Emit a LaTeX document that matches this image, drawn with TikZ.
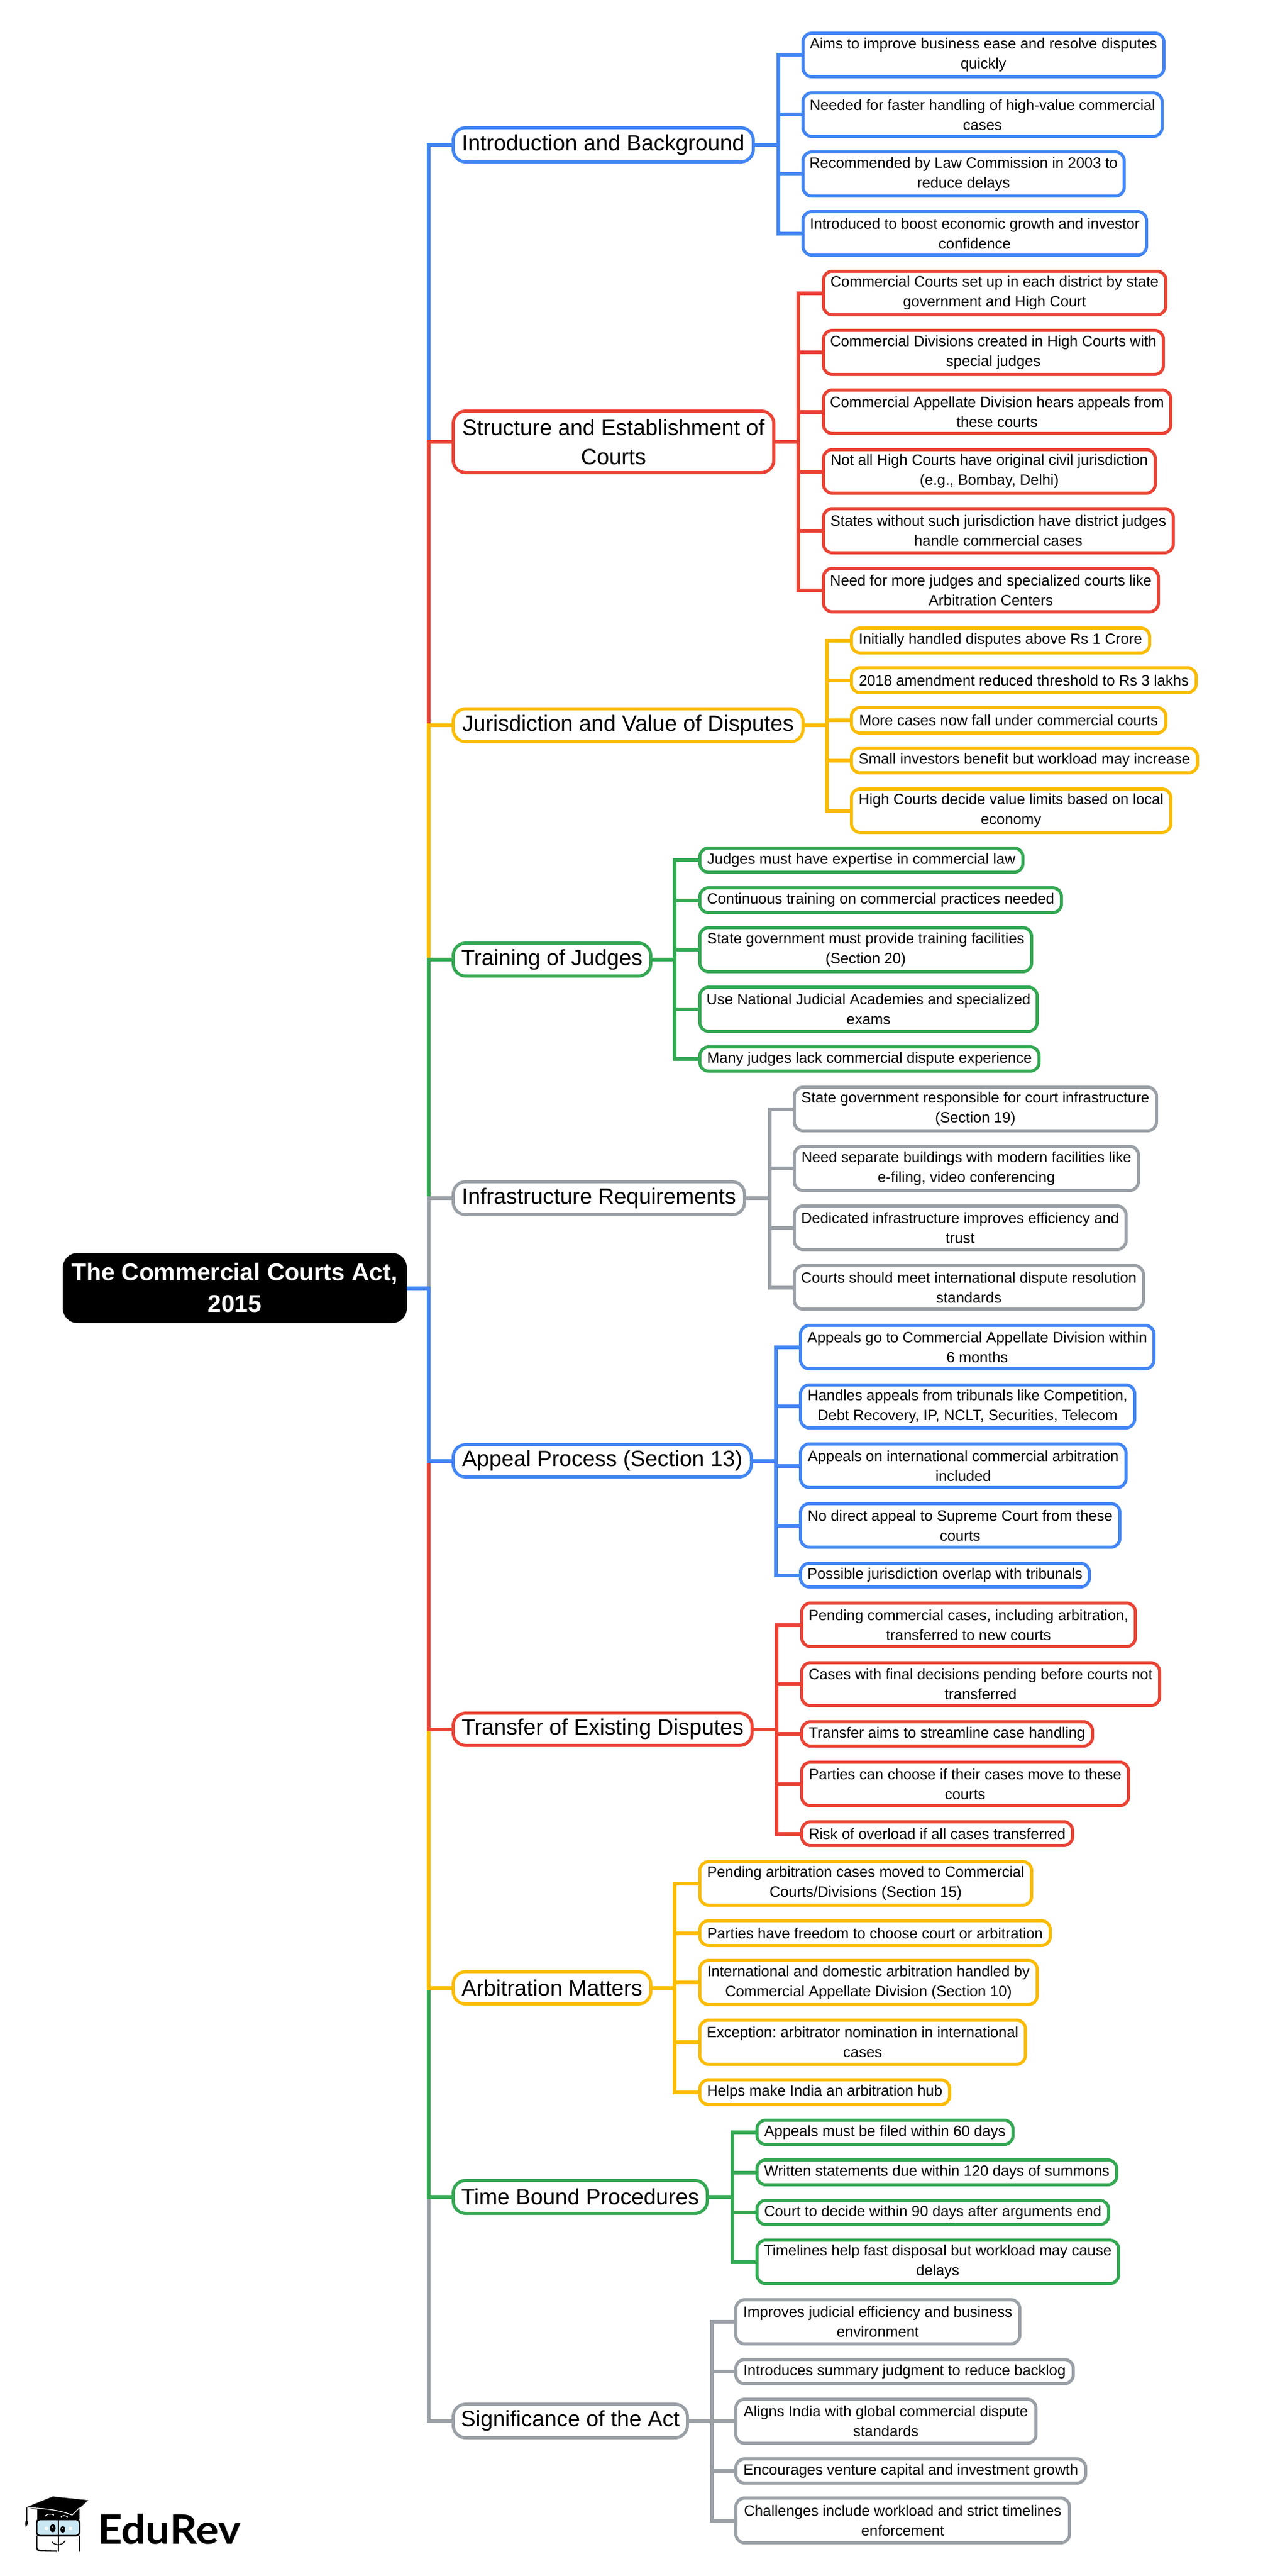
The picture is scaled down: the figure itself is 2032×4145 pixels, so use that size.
\documentclass[tikz,border=0pt]{standalone}
\usepackage{fontspec}
\setmainfont{Liberation Sans}
\newfontfamily\logofont[FakeStretch=1.06]{Lato}
\frenchspacing
\definecolor{cblue}{HTML}{4285F4}
\definecolor{cred}{HTML}{EA4335}
\definecolor{cyellow}{HTML}{FBBC04}
\definecolor{cgreen}{HTML}{34A853}
\definecolor{cgrey}{HTML}{9AA0A6}
\tikzset{
  base/.style={rectangle,align=center,inner sep=0pt,outer sep=0pt,fill=white,text=black},
  leaf/.style={base,line width=5pt,rounded corners=14pt,font=\frenchspacing\fontsize{24}{32}\selectfont},
  topic/.style={base,line width=5pt,rounded corners=20pt,font=\frenchspacing\fontsize{35.6}{47}\selectfont},
  rootbox/.style={base,fill=black,text=white,rounded corners=24pt,font=\fontsize{39}{51}\selectfont\bfseries},
  link/.style={line width=6pt,line join=miter}
}
% \bx{style}{colour}{name}{x0}{x1}{y0}{y1}{text}: outer extents in pixels
\newcommand{\bx}[8]{%
  \pgfmathsetmacro{\bxw}{#5-#4-5}\pgfmathsetmacro{\bxh}{#7-#6-5}%
  \node[#1,draw=#2,minimum width=\bxw pt,minimum height=\bxh pt] (#3) at ({(#4+#5)/2},{(#6+#7)/2}) {#8};}
% \lk{colour}{parent}{bus}{child}
\newcommand{\lk}[4]{\draw[link,#1] (#2.east) -- (#3|-#2.east) |- (#4.west);}
\begin{document}
\begin{tikzpicture}[x=1pt,y=-1pt]
\useasboundingbox (0,0) rectangle (2032,4145);
\coordinate (trunk) at (690,0);
% root and topics
\node[rootbox,minimum width=554pt,minimum height=113pt] (root) at (378,2072.5) {The Commercial Courts Act,\\2015};
\bx{topic}{cblue}{intro}{727}{1215}{203}{263}{Introduction and Background}
\bx{topic}{cred}{struct}{727}{1248}{659}{763}{Structure and Establishment of\\Courts}
\bx{topic}{cyellow}{juris}{727}{1295}{1138}{1196}{Jurisdiction and Value of Disputes}
\bx{topic}{cgreen}{train}{727}{1050}{1515}{1573}{Training of Judges}
\bx{topic}{cgrey}{infra}{727}{1201}{1899}{1957}{Infrastructure Requirements}
\bx{topic}{cblue}{appeal}{727}{1212}{2322}{2379}{Appeal Process (Section 13)}
\bx{topic}{cred}{transfer}{727}{1213}{2754}{2811}{Transfer of Existing Disputes}
\bx{topic}{cyellow}{arb}{727}{1050}{3170}{3227}{Arbitration Matters}
\bx{topic}{cgreen}{time}{727}{1141}{3506}{3564}{Time Bound Procedures}
\bx{topic}{cgrey}{signif}{727}{1109}{3866}{3925}{Significance of the Act}
% trunk links, painted so that each colour shows as in the picture
\lk{cblue}{root}{trunk}{intro}
\lk{cred}{root}{trunk}{struct}
\lk{cyellow}{root}{trunk}{juris}
\lk{cgreen}{root}{trunk}{train}
\lk{cgrey}{root}{trunk}{infra}
\lk{cgrey}{root}{trunk}{signif}
\lk{cgreen}{root}{trunk}{time}
\lk{cyellow}{root}{trunk}{arb}
\lk{cred}{root}{trunk}{transfer}
\lk{cblue}{root}{trunk}{appeal}
% Introduction
\coordinate (b1) at (1253,0);
\bx{leaf}{cblue}{a1}{1290}{1876}{51}{126}{Aims to improve business ease and resolve disputes\\quickly}
\bx{leaf}{cblue}{a2}{1290}{1873}{147}{222}{Needed for faster handling of high-value commercial\\cases}
\bx{leaf}{cblue}{a3}{1290}{1812}{242}{318}{Recommended by Law Commission in 2003 to\\reduce delays}
\bx{leaf}{cblue}{a4}{1290}{1848}{338}{413}{Introduced to boost economic growth and investor\\confidence}
\foreach \c in {a1,a2,a3,a4}{\lk{cblue}{intro}{b1}{\c}}
% Structure
\coordinate (b2) at (1285,0);
\bx{leaf}{cred}{s1}{1323}{1879}{434}{509}{Commercial Courts set up in each district by state\\government and High Court}
\bx{leaf}{cred}{s2}{1323}{1875}{529}{605}{Commercial Divisions created in High Courts with\\special judges}
\bx{leaf}{cred}{s3}{1323}{1887}{625}{700}{Commercial Appellate Division hears appeals from\\these courts}
\bx{leaf}{cred}{s4}{1323}{1862}{721}{796}{Not all High Courts have original civil jurisdiction\\(e.g., Bombay, Delhi)}
\bx{leaf}{cred}{s5}{1323}{1891}{816}{892}{States without such jurisdiction have district judges\\handle commercial cases}
\bx{leaf}{cred}{s6}{1323}{1867}{912}{987}{Need for more judges and specialized courts like\\Arbitration Centers}
\foreach \c in {s1,s2,s3,s4,s5,s6}{\lk{cred}{struct}{b2}{\c}}
% Jurisdiction
\coordinate (b3) at (1331,0);
\bx{leaf}{cyellow}{j1}{1368}{1853}{1008}{1053}{Initially handled disputes above Rs 1 Crore}
\bx{leaf}{cyellow}{j2}{1368}{1928}{1072}{1117}{2018 amendment reduced threshold to Rs 3 lakhs}
\bx{leaf}{cyellow}{j3}{1368}{1879}{1136}{1182}{More cases now fall under commercial courts}
\bx{leaf}{cyellow}{j4}{1368}{1930}{1201}{1246}{Small investors benefit but workload may increase}
\bx{leaf}{cyellow}{j5}{1368}{1887}{1267}{1342}{High Courts decide value limits based on local\\economy}
\foreach \c in {j1,j2,j3,j4,j5}{\lk{cyellow}{juris}{b3}{\c}}
% Training
\coordinate (b4) at (1086,0);
\bx{leaf}{cgreen}{t1}{1124}{1649}{1362}{1406}{Judges must have expertise in commercial law}
\bx{leaf}{cgreen}{t2}{1124}{1711}{1426}{1471}{Continuous training on commercial practices needed}
\bx{leaf}{cgreen}{t3}{1124}{1663}{1490}{1566}{State government must provide training facilities\\(Section 20)}
\bx{leaf}{cgreen}{t4}{1124}{1672}{1586}{1662}{Use National Judicial Academies and specialized\\exams}
\bx{leaf}{cgreen}{t5}{1124}{1675}{1682}{1726}{Many judges lack commercial dispute experience}
\foreach \c in {t1,t2,t3,t4,t5}{\lk{cgreen}{train}{b4}{\c}}
% Infrastructure
\coordinate (b5) at (1239,0);
\bx{leaf}{cgrey}{i1}{1276}{1864}{1747}{1822}{State government responsible for court infrastructure\\(Section 19)}
\bx{leaf}{cgrey}{i2}{1276}{1835}{1842}{1918}{Need separate buildings with modern facilities like\\e-filing, video conferencing}
\bx{leaf}{cgrey}{i3}{1276}{1815}{1938}{2013}{Dedicated infrastructure improves efficiency and\\trust}
\bx{leaf}{cgrey}{i4}{1276}{1843}{2034}{2109}{Courts should meet international dispute resolution\\standards}
\foreach \c in {i1,i2,i3,i4}{\lk{cgrey}{infra}{b5}{\c}}
% Appeal
\coordinate (b6) at (1249,0);
\bx{leaf}{cblue}{p1}{1286}{1860}{2130}{2205}{Appeals go to Commercial Appellate Division within\\6 months}
\bx{leaf}{cblue}{p2}{1286}{1829}{2226}{2300}{Handles appeals from tribunals like Competition,\\Debt Recovery, IP, NCLT, Securities, Telecom}
\bx{leaf}{cblue}{p3}{1286}{1815}{2321}{2396}{Appeals on international commercial arbitration\\included}
\bx{leaf}{cblue}{p4}{1286}{1805}{2417}{2492}{No direct appeal to Supreme Court from these\\courts}
\bx{leaf}{cblue}{p5}{1286}{1756}{2513}{2556}{Possible jurisdiction overlap with tribunals}
\foreach \c in {p1,p2,p3,p4,p5}{\lk{cblue}{appeal}{b6}{\c}}
% Transfer
\coordinate (b7) at (1250,0);
\bx{leaf}{cred}{x1}{1288}{1830}{2577}{2652}{Pending commercial cases, including arbitration,\\transferred to new courts}
\bx{leaf}{cred}{x2}{1288}{1869}{2673}{2747}{Cases with final decisions pending before courts not\\transferred}
\bx{leaf}{cred}{x3}{1288}{1761}{2768}{2812}{Transfer aims to streamline case handling}
\bx{leaf}{cred}{x4}{1288}{1819}{2833}{2908}{Parties can choose if their cases move to these\\courts}
\bx{leaf}{cred}{x5}{1288}{1729}{2929}{2972}{Risk of overload if all cases transferred}
\foreach \c in {x1,x2,x3,x4,x5}{\lk{cred}{transfer}{b7}{\c}}
% Arbitration
\coordinate (b8) at (1086,0);
\bx{leaf}{cyellow}{r1}{1124}{1663}{2993}{3068}{Pending arbitration cases moved to Commercial\\Courts/Divisions (Section 15)}
\bx{leaf}{cyellow}{r2}{1124}{1693}{3088}{3133}{Parties have freedom to choose court or arbitration}
\bx{leaf}{cyellow}{r3}{1124}{1672}{3152}{3228}{International and domestic arbitration handled by\\Commercial Appellate Division (Section 10)}
\bx{leaf}{cyellow}{r4}{1124}{1653}{3248}{3324}{Exception: arbitrator nomination in international\\cases}
\bx{leaf}{cyellow}{r5}{1124}{1531}{3344}{3389}{Helps make India an arbitration hub}
\foreach \c in {r1,r2,r3,r4,r5}{\lk{cyellow}{arb}{b8}{\c}}
% Time
\coordinate (b9) at (1179,0);
\bx{leaf}{cgreen}{m1}{1216}{1633}{3409}{3453}{Appeals must be filed within 60 days}
\bx{leaf}{cgreen}{m2}{1216}{1800}{3473}{3518}{Written statements due within 120 days of summons}
\bx{leaf}{cgreen}{m3}{1216}{1787}{3538}{3582}{Court to decide within 90 days after arguments end}
\bx{leaf}{cgreen}{m4}{1216}{1803}{3602}{3677}{Timelines help fast disposal but workload may cause\\delays}
\foreach \c in {m1,m2,m3,m4}{\lk{cgreen}{time}{b9}{\c}}
% Significance
\coordinate (b10) at (1146,0);
\bx{leaf}{cgrey}{n1}{1182}{1644}{3698}{3774}{Improves judicial efficiency and business\\environment}
\bx{leaf}{cgrey}{n2}{1182}{1730}{3794}{3838}{Introduces summary judgment to reduce backlog}
\bx{leaf}{cgrey}{n3}{1182}{1670}{3858}{3934}{Aligns India with global commercial dispute\\standards}
\bx{leaf}{cgrey}{n4}{1182}{1750}{3954}{3998}{Encourages venture capital and investment growth}
\bx{leaf}{cgrey}{n5}{1182}{1724}{4017}{4094}{Challenges include workload and strict timelines\\enforcement}
\foreach \c in {n1,n2,n3,n4,n5}{\lk{cgrey}{signif}{b10}{\c}}
% logo
\fill[black] (60,4037) -- (128,4037) -- (128,4054) -- (60,4054) -- cycle;
\fill[black] (41,4035) -- (85,4017) -- (142,4023) -- (116,4047) -- cycle;
\draw[white,line width=1.2pt] (41,4035) .. controls (75,4036) and (100,4040) .. (116,4047) -- (128,4035);
\draw[white,line width=1.2pt] (72,4049) .. controls (75,4045) and (82,4044) .. (87,4047);
\draw[white,line width=1.2pt] (98,4050) .. controls (101,4047) and (105,4047) .. (109,4050);
\draw[black,line width=1.5pt] (43,4035) -- (43,4056);
\fill[black] (43,4054) .. controls (46,4058) and (46,4061) .. (41.5,4066) .. controls (40,4061) and (40,4058) .. (43,4054) -- cycle;
\draw[black,fill=black!18!cyan!22!white,line width=2.5pt,rounded corners=5pt] (59,4054) rectangle (128,4080);
\draw[black,line width=2.5pt,rounded corners=5pt] (59,4080) -- (59,4104) -- (92,4105);
\draw[black,line width=2.5pt] (128,4080) -- (128,4106);
\draw[black,line width=2.5pt] (94,4053) -- (94,4106);
\fill[black] (85,4068) ellipse (4.5pt and 6.5pt);
\fill[black] (101,4070) ellipse (4pt and 5.5pt);
\fill[white] (85,4066) circle (1pt);
\fill[white] (101,4068) circle (1pt);
\fill[white] (72,4066) rectangle (77,4071);
\fill[white] (111,4066) rectangle (116,4071);
\draw[black,line width=1.5pt] (83.5,4090) .. controls (90,4097) and (100,4096) .. (105,4088);
\node[inner sep=0pt,anchor=base west,font=\logofont\bfseries\fontsize{65}{70}\selectfont,text=black] (brand) at (157,4093) {EduRev};
\end{tikzpicture}
\end{document}
